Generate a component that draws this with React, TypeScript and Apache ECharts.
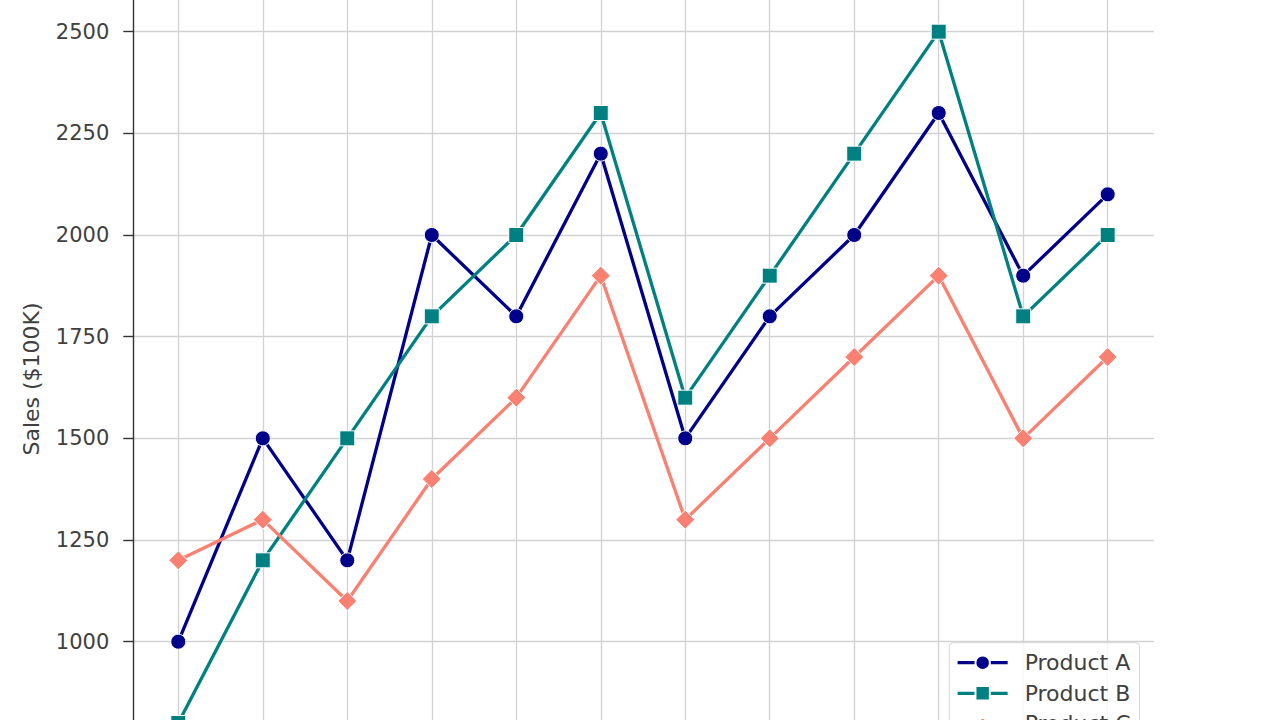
import React, { useEffect, useRef } from "react";
import * as echarts from "echarts";

const categories = ["Jan", "Feb", "Mar", "Apr", "May", "Jun", "Jul", "Aug", "Sep", "Oct", "Nov", "Dec"];
const productA = [1000, 1500, 1200, 2000, 1800, 2200, 1500, 1800, 2000, 2300, 1900, 2100];
const productB = [800, 1200, 1500, 1800, 2000, 2300, 1600, 1900, 2200, 2500, 1800, 2000];
const productC = [1200, 1300, 1100, 1400, 1600, 1900, 1300, 1500, 1700, 1900, 1500, 1700];
const yMin = 500;
const yMax = 2750;
const yInterval = 250;
const yVisibleMin = 1000;
const yVisibleMax = 2500;
const yLabel = "Sales ($100K)";

const FONT = "DejaVu Sans";
const TEXT = "#404040";
const GRID = "#d2d2d2";
const SPINE = "#333333";

export default function App() {
  const ref = useRef<HTMLDivElement>(null);
  useEffect(() => {
    if (!ref.current) return;
    const chart = echarts.init(ref.current, undefined, { renderer: "svg" });
    const grid = { top: 30, bottom: 55 };
    const mk = (name: string, data: number[], color: string, symbol: string, size: number) => ({
      name,
      type: "line",
      xAxisIndex: 1,
      yAxisIndex: 1,
      data,
      symbol,
      symbolSize: size,
      showSymbol: true,
      lineStyle: { color, width: 3.3 },
      itemStyle: { color, borderColor: "#ffffff", borderWidth: 1 },
      emphasis: { disabled: true },
    });
    chart.setOption({
      animation: false,
      backgroundColor: "#ffffff",
      grid: [
        { left: 133.3, right: 126, ...grid },
        { left: 178.3, right: 172.3, ...grid },
      ],
      xAxis: [
        { gridIndex: 0, type: "value", min: 0, max: 1, show: false },
        {
          gridIndex: 1,
          type: "category",
          data: categories,
          boundaryGap: false,
          axisLine: { show: false },
          axisTick: { show: false },
          axisLabel: { show: false },
          splitLine: { show: true, lineStyle: { color: GRID, width: 1.3 } },
        },
      ],
      yAxis: [
        {
          gridIndex: 0,
          type: "value",
          min: yMin,
          max: yMax,
          interval: yInterval,
          axisLine: { show: true, lineStyle: { color: SPINE, width: 1.4 } },
          axisTick: { show: true, length: 10, lineStyle: { color: SPINE, width: 1.4 } },
          axisLabel: {
            fontSize: 21,
            color: TEXT,
            margin: 24,
            fontFamily: FONT,
            formatter: (v: number) => (v >= yVisibleMin && v <= yVisibleMax ? String(v) : ""),
          },
          splitLine: { show: true, lineStyle: { color: GRID, width: 1.3 } },
        },
        { gridIndex: 1, type: "value", min: yMin, max: yMax, interval: yInterval, show: false },
      ],
      legend: {
        orient: "vertical",
        left: 949.3,
        top: 742.7,
        padding: [9, 9, 10, 6.7],
        itemWidth: 50,
        itemHeight: 18,
        itemGap: 8.6,
        backgroundColor: "rgba(255,255,255,0.8)",
        borderColor: "#d6d6d6",
        borderWidth: 1,
        borderRadius: 4,
        lineStyle: { width: 3.3 },
        textStyle: { fontSize: 22, color: TEXT, fontFamily: FONT, lineHeight: 18, padding: [0, 0, 0, 12] },
        data: ["Product A", "Product B", "Product C"],
      },
      graphic: [
        {
          type: "text",
          x: 31,
          y: 479,
          rotation: Math.PI / 2,
          style: {
            text: yLabel,
            fontSize: 22,
            fontFamily: FONT,
            fill: TEXT,
            align: "center",
            verticalAlign: "middle",
          },
        },
      ],
      series: [
        mk("Product A", productA, "#00008b", "circle", 15),
        mk("Product B", productB, "#008080", "rect", 15),
        mk("Product C", productC, "#fa8072", "diamond", 19),
      ],
    });
    return () => chart.dispose();
  }, []);
  return (
    <div
      style={{
        position: "fixed",
        left: 0,
        top: 0,
        width: 1280,
        height: 720,
        overflow: "hidden",
        background: "#ffffff",
      }}
    >
      <div ref={ref} style={{ position: "absolute", left: 0, top: -100, width: 1280, height: 1000 }} />
    </div>
  );
}
